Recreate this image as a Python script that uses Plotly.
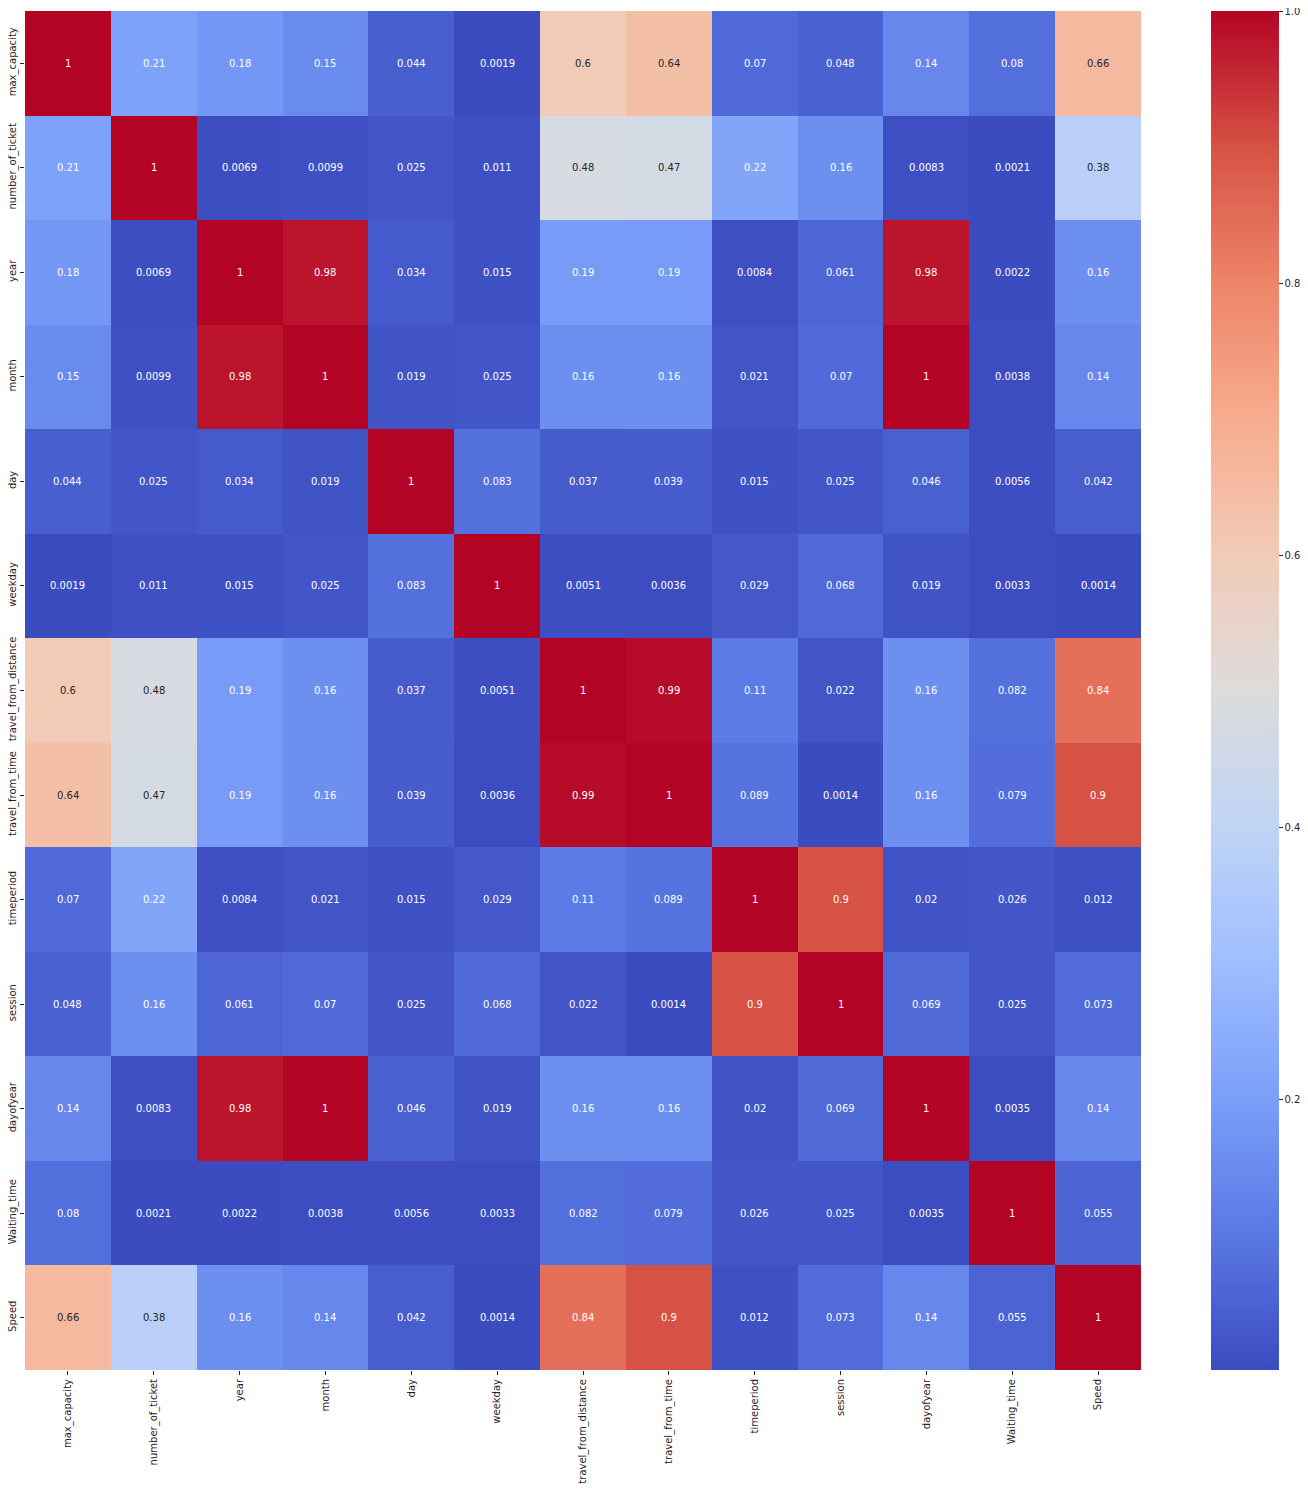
"""Correlation heatmap of the ticket features."""

import plotly.graph_objects as go

features = [
    "max_capacity", "number_of_ticket", "year", "month", "day", "weekday",
    "travel_from_distance", "travel_from_time", "timeperiod", "session",
    "dayofyear", "Waiting_time", "Speed",
]

# cell text as printed in the picture, one list per row
max_capacity = ["1", "0.21", "0.18", "0.15", "0.044", "0.0019", "0.6", "0.64", "0.07", "0.048", "0.14", "0.08", "0.66"]
number_of_ticket = ["0.21", "1", "0.0069", "0.0099", "0.025", "0.011", "0.48", "0.47", "0.22", "0.16", "0.0083", "0.0021", "0.38"]
year = ["0.18", "0.0069", "1", "0.98", "0.034", "0.015", "0.19", "0.19", "0.0084", "0.061", "0.98", "0.0022", "0.16"]
month = ["0.15", "0.0099", "0.98", "1", "0.019", "0.025", "0.16", "0.16", "0.021", "0.07", "1", "0.0038", "0.14"]
day = ["0.044", "0.025", "0.034", "0.019", "1", "0.083", "0.037", "0.039", "0.015", "0.025", "0.046", "0.0056", "0.042"]
weekday = ["0.0019", "0.011", "0.015", "0.025", "0.083", "1", "0.0051", "0.0036", "0.029", "0.068", "0.019", "0.0033", "0.0014"]
travel_from_distance = ["0.6", "0.48", "0.19", "0.16", "0.037", "0.0051", "1", "0.99", "0.11", "0.022", "0.16", "0.082", "0.84"]
travel_from_time = ["0.64", "0.47", "0.19", "0.16", "0.039", "0.0036", "0.99", "1", "0.089", "0.0014", "0.16", "0.079", "0.9"]
timeperiod = ["0.07", "0.22", "0.0084", "0.021", "0.015", "0.029", "0.11", "0.089", "1", "0.9", "0.02", "0.026", "0.012"]
session = ["0.048", "0.16", "0.061", "0.07", "0.025", "0.068", "0.022", "0.0014", "0.9", "1", "0.069", "0.025", "0.073"]
dayofyear = ["0.14", "0.0083", "0.98", "1", "0.046", "0.019", "0.16", "0.16", "0.02", "0.069", "1", "0.0035", "0.14"]
waiting_time = ["0.08", "0.0021", "0.0022", "0.0038", "0.0056", "0.0033", "0.082", "0.079", "0.026", "0.025", "0.0035", "1", "0.055"]
speed = ["0.66", "0.38", "0.16", "0.14", "0.042", "0.0014", "0.84", "0.9", "0.012", "0.073", "0.14", "0.055", "1"]

rows = [
    max_capacity, number_of_ticket, year, month, day, weekday,
    travel_from_distance, travel_from_time, timeperiod, session,
    dayofyear, waiting_time, speed,
]
z = [[float(v) for v in row] for row in rows]

colorbar_ticks = [0.2, 0.4, 0.6, 0.8, 1.0]
colorbar_labels = ["0.2", "0.4", "0.6", "0.8", "1.0"]

# matplotlib coolwarm
coolwarm = [
    [0.0, "#3b4cc0"], [0.1, "#5a78e4"], [0.2, "#7b9ff9"], [0.3, "#9ebeff"],
    [0.4, "#c0d4f5"], [0.5, "#dddcdc"], [0.6, "#f2cbb7"], [0.7, "#f7ac8e"],
    [0.8, "#ee8468"], [0.9, "#d65244"], [1.0, "#b40426"],
]

# annotations, so that the ink can flip between white and near black
annotations = []
for i, row in enumerate(rows):
    for j, label in enumerate(row):
        dark = 0.3 <= z[i][j] <= 0.7
        annotations.append(dict(
            x=features[j], y=features[i], text=label, showarrow=False,
            font=dict(size=10, color="#262626" if dark else "white"),
        ))

fig = go.Figure(go.Heatmap(
    z=z, x=features, y=features, colorscale=coolwarm, zmin=0.0014, zmax=1,
    colorbar=dict(
        x=1.0627, xanchor="left", xref="paper", xpad=0,
        y=0, yanchor="bottom", yref="paper", ypad=0, len=1, lenmode="fraction",
        thickness=68, thicknessmode="pixels", outlinewidth=0,
        tickvals=colorbar_ticks, ticktext=colorbar_labels,
        ticks="outside", ticklen=4, tickcolor="#262626", tickwidth=0.8,
        ticklabeloverflow="allow",
        tickfont=dict(size=10, color="#262626"),
    ),
))

# the page adds 8px around the figure, so width and height are 8px short
fig.update_layout(
    width=1300, height=1481, autosize=False,
    margin=dict(l=17, r=167, t=3, b=119, pad=0),
    paper_bgcolor="white", plot_bgcolor="white",
    font=dict(family="DejaVu Sans", size=10, color="#262626"),
    annotations=annotations,
)
fig.update_xaxes(
    tickangle=-90, ticks="outside", ticklen=4, tickcolor="#262626", tickwidth=0.8,
    showgrid=False, zeroline=False, automargin=False,
)
fig.update_yaxes(
    autorange="reversed", tickangle=-90, ticks="outside", ticklen=4, tickcolor="#262626",
    tickwidth=0.8, showgrid=False, zeroline=False, automargin=False,
)

# the top colorbar label pokes just past the svg edge, so let it show
show_overflow = "document.querySelectorAll('.main-svg').forEach(s => s.style.overflow = 'visible');"
fig.write_html("out.html", config={"displayModeBar": False}, post_script=show_overflow)
